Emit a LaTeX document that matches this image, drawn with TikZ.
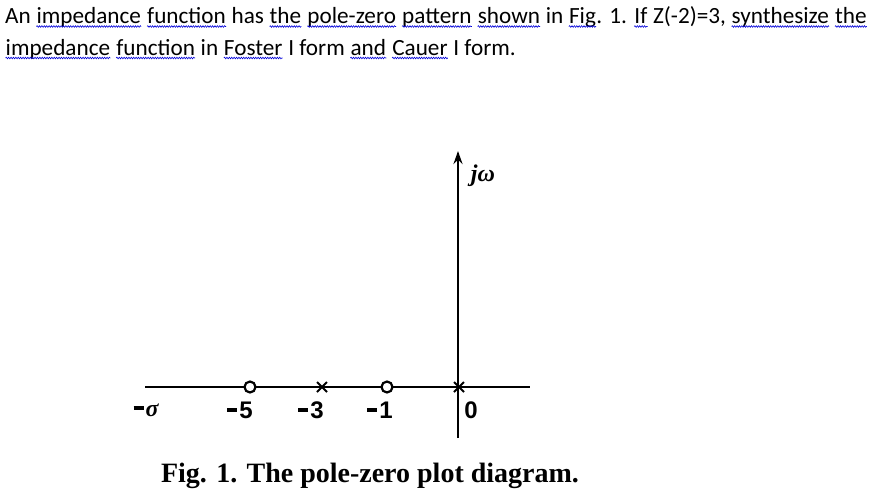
\documentclass[tikz,border=0pt]{standalone}
\usepackage{fontspec}
\setmainfont{Carlito}
\newfontfamily\tnr{Liberation Serif}
\newfontfamily\hel{Liberation Sans}
\usetikzlibrary{arrows.meta,calc,decorations.pathmorphing}
\newcommand\bw[1]{\tikz[baseline=(w.base)]{\node[inner sep=0pt,anchor=base] (w) {#1};
  \draw[blue!85!black, line width=0.6pt, decorate, decoration={snake, amplitude=0.8pt, segment length=2.4pt}] ([yshift=-3pt]w.base west) -- ([yshift=-3pt]w.base east);}}
\newcommand\mydash{\rule[6pt]{10pt}{4pt}\hspace{2pt}}
\tikzset{
  txt/.style={anchor=base west, inner sep=0pt, font=\fontsize{23.2}{28}\selectfont},
  axisline/.style={line width=2.8pt, black},
  zero/.style={circle, draw=black, fill=white, line width=2.2pt, minimum size=11pt, inner sep=0pt},
  pole/.style={line width=2pt, black},
  lab/.style={inner sep=0pt, font=\hel\bfseries\fontsize{24}{28}\selectfont},
}
\begin{document}
\begin{tikzpicture}[x=1pt,y=-1pt]
\useasboundingbox (0,0) rectangle (873,499);
\node[txt] (l1) at (5,23.5) {An \bw{impedance} \bw{function} has \bw{the} \bw{pole-zero} \bw{pattern} \bw{shown} in \bw{Fig}. 1. \bw{If} Z(-2)=3, \bw{synthesize} \bw{the}};
\node[txt] (l2) at (5,55) {\bw{impedance} \bw{function} in \bw{Foster} I form \bw{and} \bw{Cauer} I form.};
% axes
\coordinate (hl) at (145,387);
\coordinate (hr) at (530,387);
\coordinate (vb) at (458,438);
\coordinate (vt) at (458,151);
\draw[axisline] (hl) -- (hr);
\draw[axisline, -{Stealth[length=13pt,width=9pt]}] (vb) -- (vt);
% zeros
\node[zero] (z5) at (250,387) {};
\node[zero] (z1) at (387,387) {};
% poles
\coordinate (p3) at (322,387);
\coordinate (p0) at (459,387);
\draw[pole] ($(p3)+(-5,-5)$) -- ($(p3)+(5,5)$) ($(p3)+(-5,5)$) -- ($(p3)+(5,-5)$);
\draw[pole] ($(p0)+(-5,-5)$) -- ($(p0)+(5,5)$) ($(p0)+(-5,5)$) -- ($(p0)+(5,-5)$);
% labels
\node[lab] (ls) at (146,410) {\mydash{\tnr\itshape σ}};
\node[lab] (l5) at (240,410) {\mydash 5};
\node[lab] (l3) at (311,410) {\mydash 3};
\node[lab] (lm1) at (380,410) {\mydash 1};
\node[lab] (l0) at (471,410) {0};
\node[inner sep=0pt, font=\tnr\bfseries\itshape\fontsize{24}{28}\selectfont] (jw) at (483,176) {jω};
\node[inner sep=0pt, font=\tnr\bfseries\fontsize{28}{32}\selectfont] (cap) at (370,476) {Fig. 1. The pole-zero plot diagram.};
\end{tikzpicture}
\end{document}
